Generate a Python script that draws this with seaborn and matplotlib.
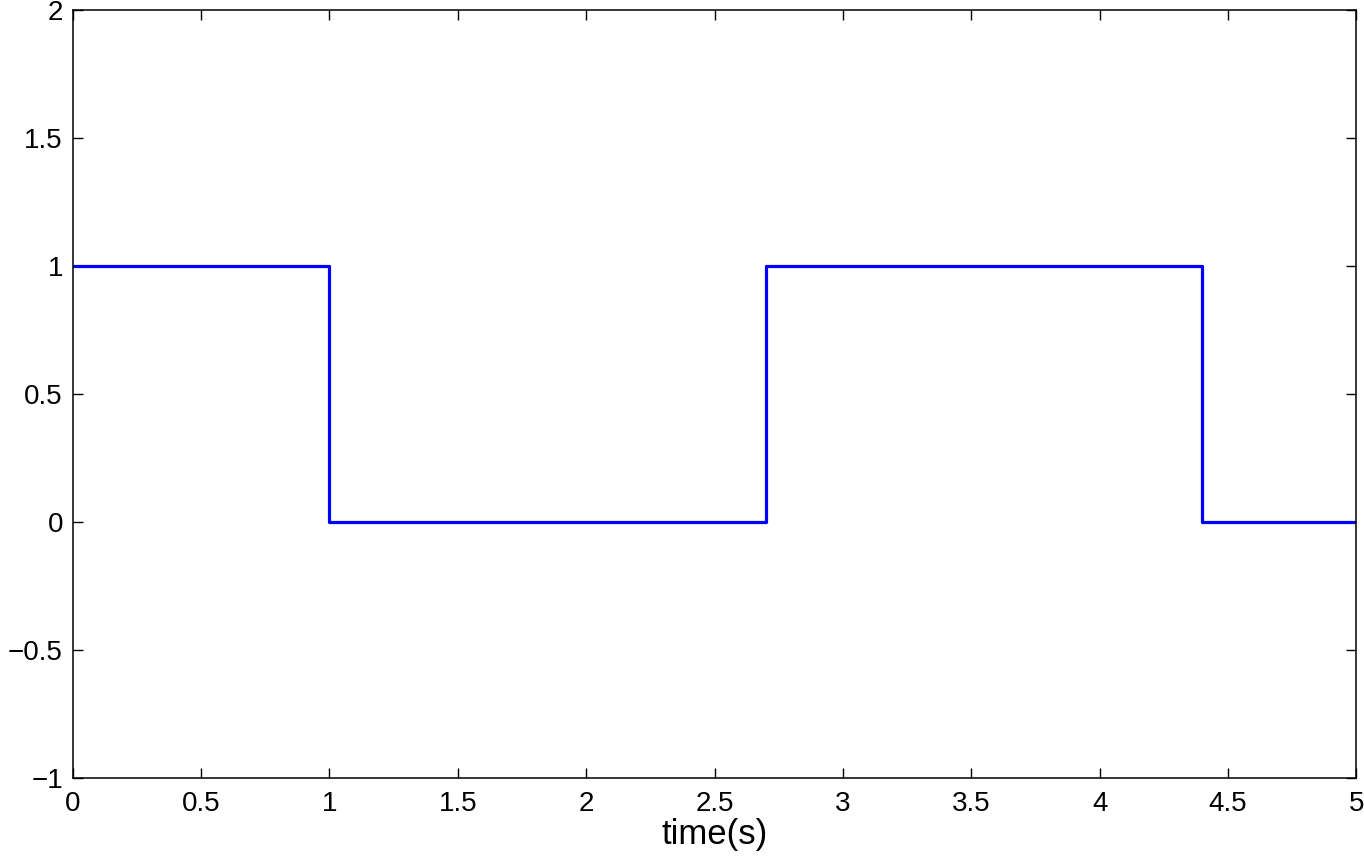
import matplotlib
matplotlib.use("Agg")
import matplotlib.pyplot as plt
import seaborn as sns
import pandas as pd

time_s = [0.0, 1.0, 2.7, 4.4, 5.0]
signal = [1, 0, 1, 0, 0]
x_ticks = [0, 0.5, 1, 1.5, 2, 2.5, 3, 3.5, 4, 4.5, 5]
y_ticks = [-1, -0.5, 0, 0.5, 1, 1.5, 2]

sns.set_theme(style="white")
plt.rcParams['font.family'] = ['Liberation Sans', 'DejaVu Sans']

df = pd.DataFrame({"time": time_s, "value": signal})

fig = plt.figure(figsize=(13.64, 8.56), dpi=100)
ax = fig.add_axes([0.0533, 0.0911, 0.9412, 0.8969])
sns.lineplot(data=df, x="time", y="value", ax=ax, color=(0, 0, 1),
             linewidth=2.3, drawstyle="steps-post", estimator=None)

ax.set_xlim(0, 5)
ax.set_ylim(-1, 2)
ax.set_xticks(x_ticks)
ax.set_xticklabels([f"{t:g}" for t in x_ticks])
ax.set_yticks(y_ticks)
ax.set_yticklabels([f"{t:g}".replace("-", "\u2212") for t in y_ticks])
ax.set_xlabel("time(s)", fontsize=25, labelpad=1, color="black")
ax.set_ylabel("")
ax.tick_params(direction="in", length=7, width=1, labelsize=20,
               top=True, right=True, bottom=True, left=True, colors="black")
ax.tick_params(axis="x", pad=9)
ax.tick_params(axis="y", pad=7)
for s in ax.spines.values():
    s.set_visible(True)
    s.set_color("black")
    s.set_linewidth(1.1)
ax.set_facecolor("white")
fig.patch.set_facecolor("white")

fig.savefig("out.png", dpi=100)
